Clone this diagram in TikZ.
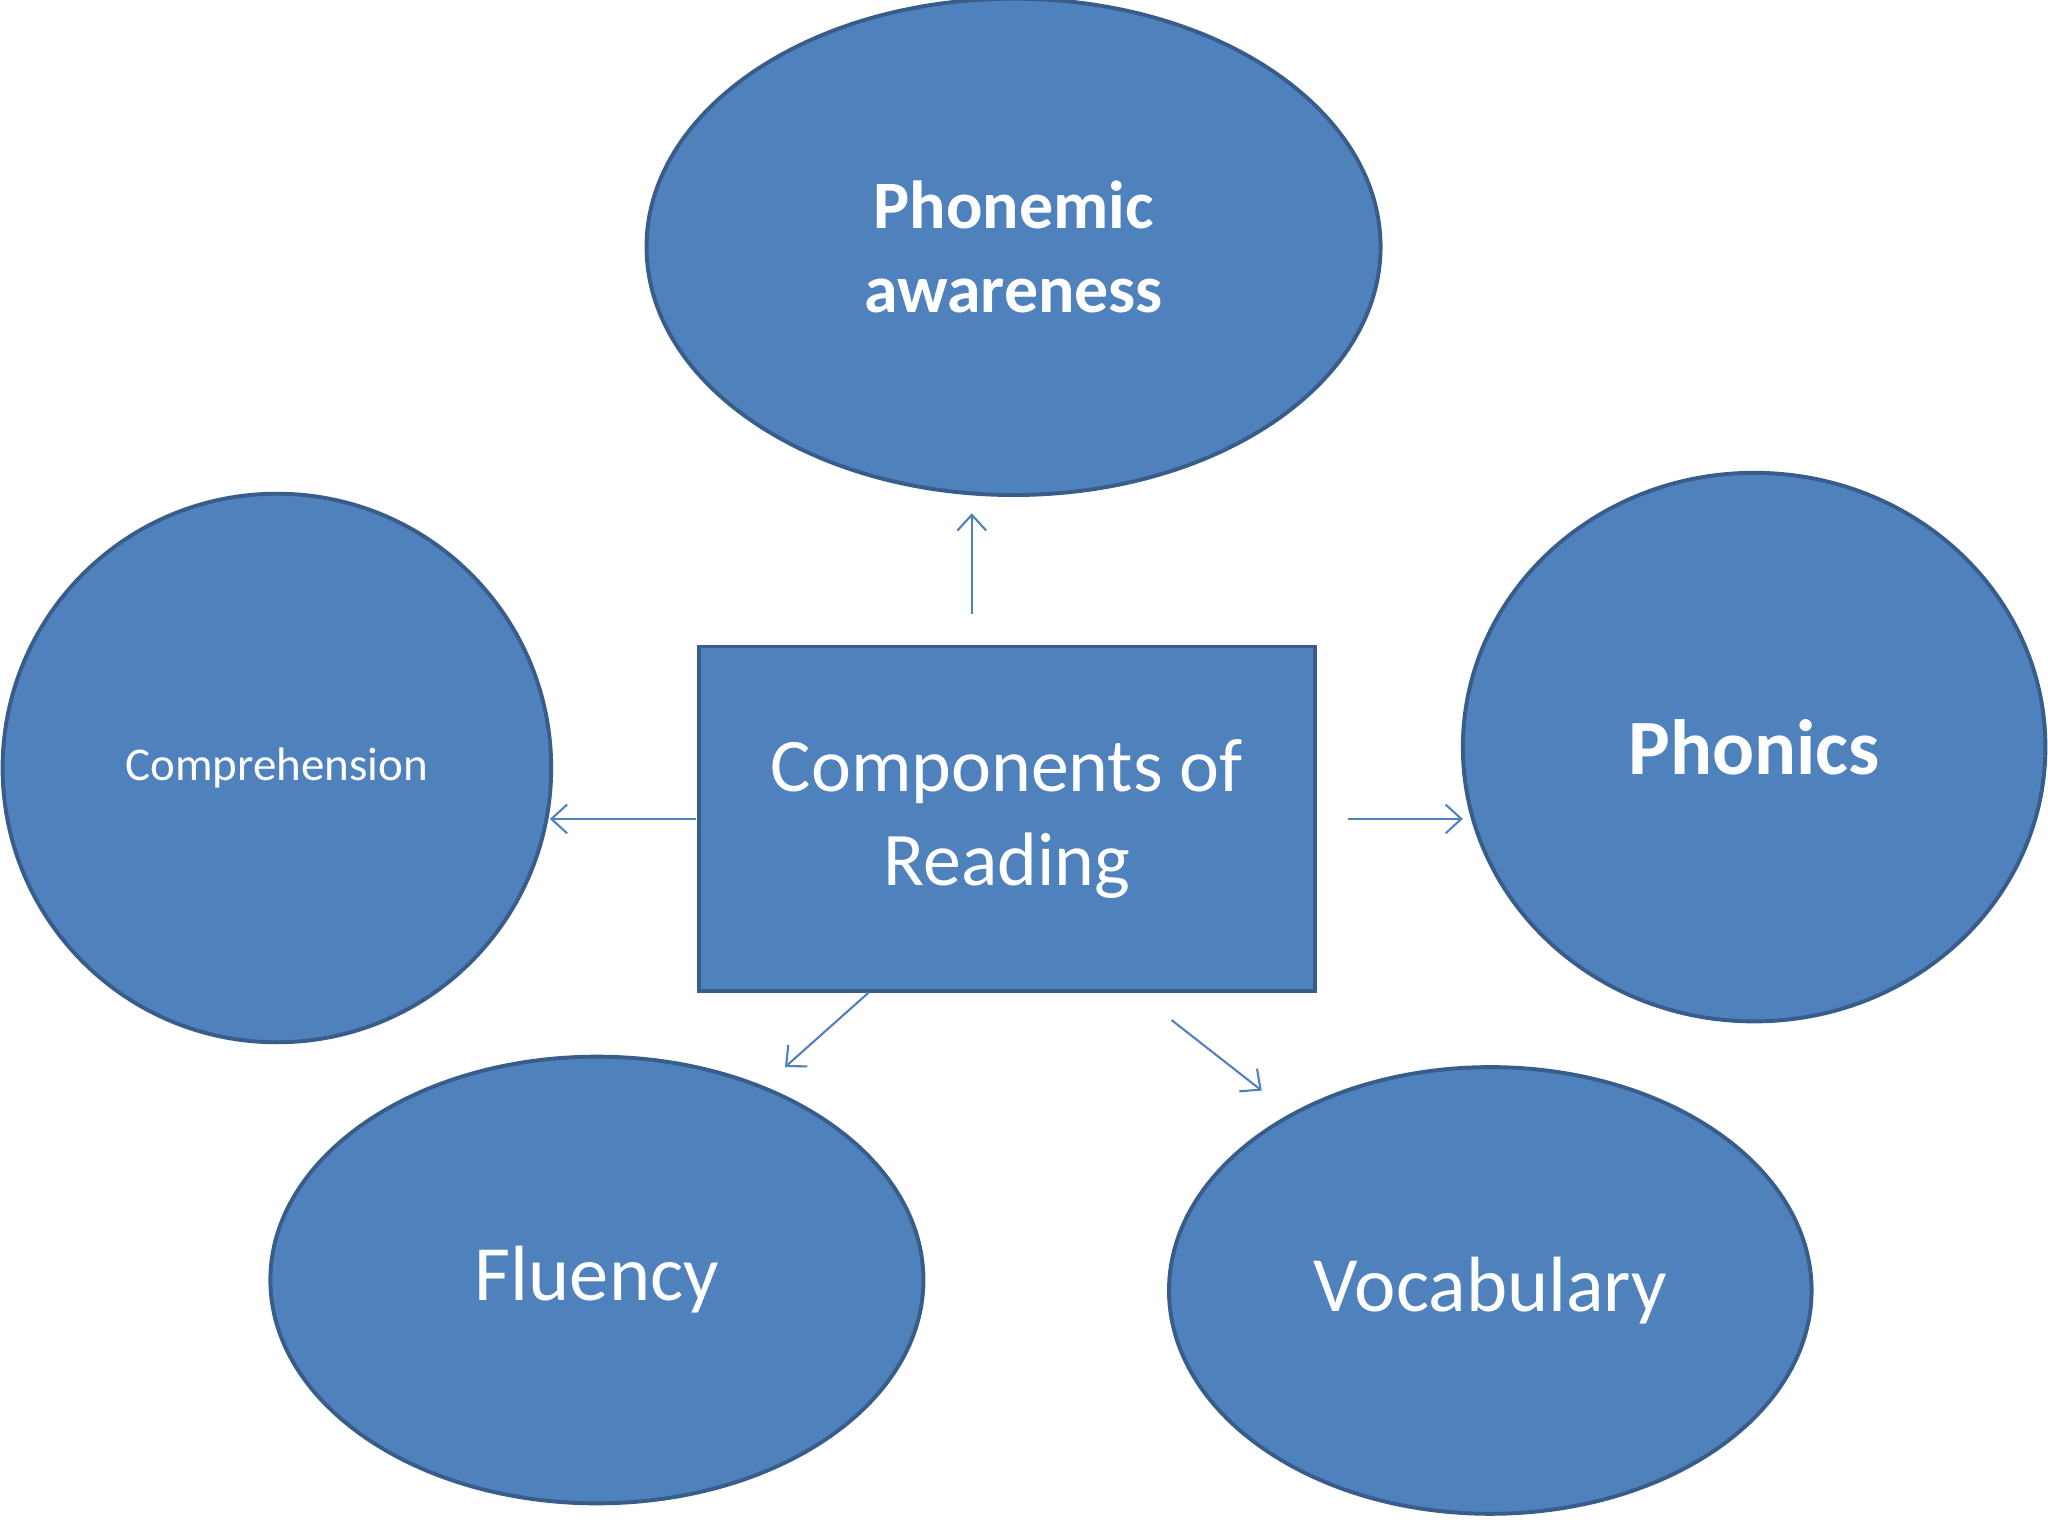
\documentclass[tikz,border=0pt]{standalone}
\usepackage{fontspec}
\setmainfont{Carlito}
\usetikzlibrary{shapes.geometric,arrows.meta}
\definecolor{fillb}{HTML}{4F81BD}
\definecolor{edgeb}{HTML}{385D8A}
\tikzset{
  oval/.style={ellipse,fill=fillb,draw=edgeb,line width=1.5pt,text=white,align=center,inner sep=0pt},
  conn/.style={draw=fillb,line width=0.8pt,-{Straight Barb[length=6pt,width=11pt]}}
}
\begin{document}
\begin{tikzpicture}[x=0.5pt,y=-0.5pt]
\useasboundingbox (0,0) rectangle (1568,1176);
\node[oval,minimum width=281pt,minimum height=190pt,font=\bfseries\fontsize{26}{32}\selectfont] (pa) at (776,189) {Phonemic\\awareness};
\node[oval,minimum width=210pt,minimum height=210pt,font=\fontsize{18}{22}\selectfont] (co) at (212,588) {Comprehension};
\node[oval,minimum width=223pt,minimum height=210pt,font=\bfseries\fontsize{30}{36}\selectfont] (ph) at (1343,572) {Phonics};
\node[oval,minimum width=250pt,minimum height=171pt,font=\fontsize{30}{36}\selectfont] (fl) at (457,980) {Fluency};
\node[oval,minimum width=246pt,minimum height=171pt,font=\fontsize{30}{36}\selectfont] (vo) at (1141,988) {Vocabulary};
\node[rectangle,fill=fillb,draw=edgeb,line width=1.5pt,text=white,align=center,minimum width=236pt,minimum height=132pt,font=\fontsize{29}{36}\selectfont] (cr) at (771,627) {Components of\\Reading};
\coordinate (a1) at (744,470); \coordinate (b1) at (744,393);
\coordinate (a2) at (533,627); \coordinate (b2) at (421,627);
\coordinate (a3) at (1032,627); \coordinate (b3) at (1120,627);
\coordinate (a4) at (665,760); \coordinate (b4) at (601,817);
\coordinate (a5) at (897,781); \coordinate (b5) at (966,835);
\draw[conn] (a1) -- (b1);
\draw[conn] (a2) -- (b2);
\draw[conn] (a3) -- (b3);
\draw[conn] (a4) -- (b4);
\draw[conn] (a5) -- (b5);
\end{tikzpicture}
\end{document}
